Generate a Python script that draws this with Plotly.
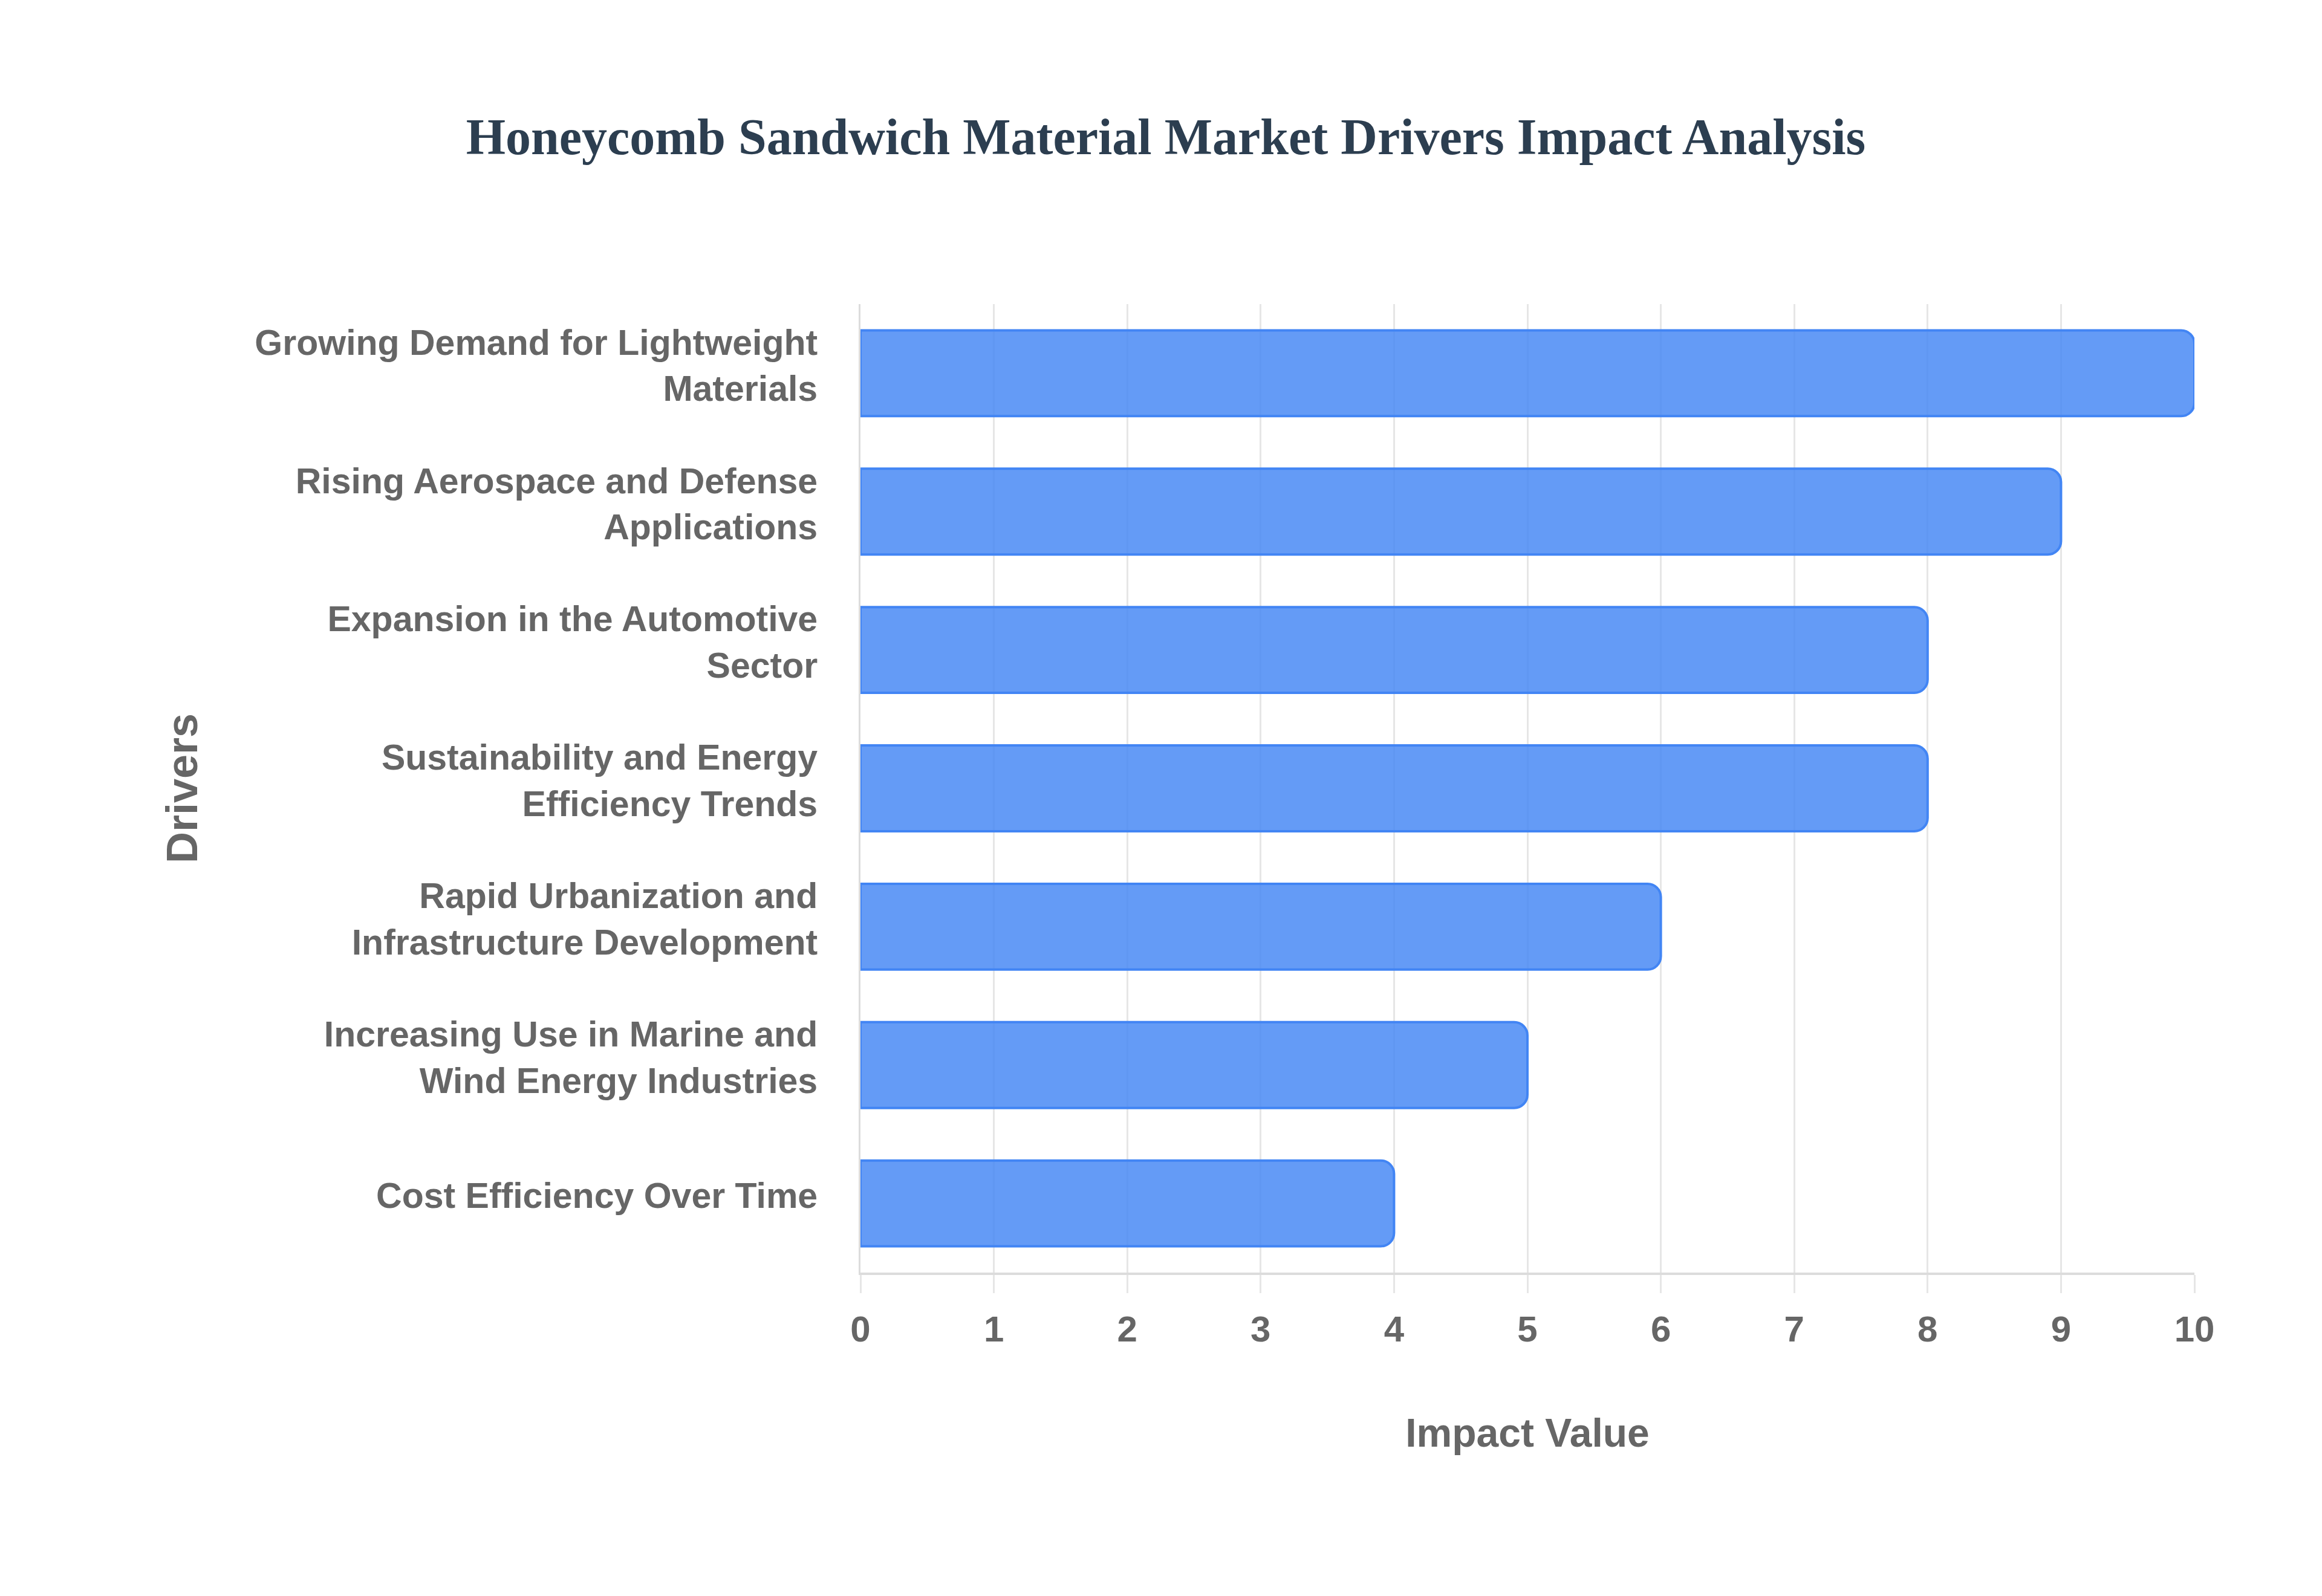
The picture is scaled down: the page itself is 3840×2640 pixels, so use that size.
import plotly.graph_objects as go

drivers = [
    "Growing Demand for Lightweight<br>Materials",
    "Rising Aerospace and Defense<br>Applications",
    "Expansion in the Automotive<br>Sector",
    "Sustainability and Energy<br>Efficiency Trends",
    "Rapid Urbanization and<br>Infrastructure Development",
    "Increasing Use in Marine and<br>Wind Energy Industries",
    "Cost Efficiency Over Time",
]
impact = [10, 9, 8, 8, 6, 5, 4]
x_ticks = list(range(0, 11))

grey = "rgb(102,102,102)"
sans = "Liberation Sans, Arial, sans-serif"

fig = go.Figure(
    go.Bar(
        x=impact,
        y=drivers,
        orientation="h",
        marker=dict(
            color="rgba(66,133,244,0.82)",
            line=dict(color="rgb(66,133,244)", width=4),
            cornerradius=22,
        ),
        width=0.62,
    )
)

fig.update_layout(
    width=3840,
    height=2640,
    paper_bgcolor="white",
    plot_bgcolor="white",
    margin=dict(l=1415, r=219, t=495, b=543),
    showlegend=False,
    title=dict(
        text="<b>Honeycomb Sandwich Material Market Drivers Impact Analysis</b>",
        x=0.5,
        xanchor="center",
        y=1 - 218 / 2640,
        yanchor="middle",
        font=dict(family="Liberation Serif, Times New Roman, serif", size=84, color="#2c3e50"),
    ),
    font=dict(family=sans, color=grey),
)

fig.update_xaxes(
    range=[0, 10],
    tickvals=x_ticks,
    showgrid=True,
    gridcolor="#e6e6e6",
    gridwidth=3,
    showline=True,
    linecolor="#dcdcdc",
    linewidth=4,
    ticks="outside",
    ticklen=30,
    tickwidth=3,
    tickcolor="#e6e6e6",
    ticklabelstandoff=8,
    tickfont=dict(family=sans, size=60, weight="bold", color=grey),
    zeroline=False,
    title=dict(
        text="Impact Value",
        font=dict(family=sans, size=66, weight="bold", color=grey),
        standoff=117,
    ),
)

fig.update_yaxes(
    range=[6.5, -0.5],
    showgrid=False,
    showline=True,
    linecolor="#dcdcdc",
    linewidth=3,
    ticks="",
    ticklabelstandoff=56,
    ticklabelshift=13,
    tickfont=dict(family=sans, size=59, weight="bold", color=grey),
    title=dict(
        text="Drivers",
        font=dict(family=sans, size=72, weight="bold", color=grey),
        standoff=72,
    ),
)

fig.write_html("out.html")
